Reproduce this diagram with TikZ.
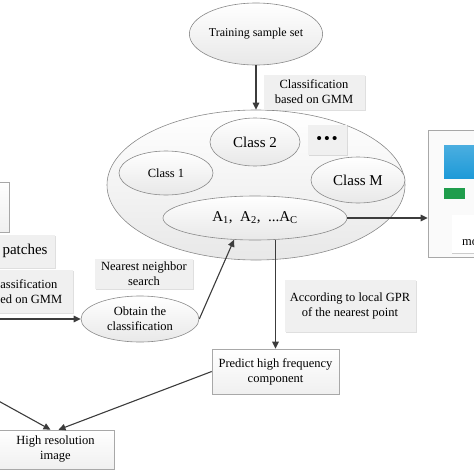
\documentclass[tikz,border=0pt]{standalone}
\usepackage{fontspec}
\setmainfont{Liberation Serif}
\usetikzlibrary{shapes.geometric,arrows.meta,shadows}
\definecolor{arrowc}{HTML}{3C3C3C}
\definecolor{ellc}{HTML}{8A8A8A}
\definecolor{boxc}{HTML}{A8A8A8}
\definecolor{lblfill}{HTML}{F0F0F0}
\definecolor{bluefill}{HTML}{1E9AD8}
\definecolor{greenfill}{HTML}{1F9D4C}
\begin{document}
\begin{tikzpicture}[x=1pt,y=-1pt,
  ell/.style={ellipse, draw=ellc, line width=0.6pt, top color=white, bottom color=gray!18,
              inner sep=0pt, align=center, font=\fontsize{12}{14}\selectfont},
  lbl/.style={rectangle, fill=lblfill, draw=none, inner sep=0pt, align=center,
              drop shadow={shadow xshift=1.3pt, shadow yshift=-1.3pt, opacity=0.25},
              font=\fontsize{12.5}{15}\selectfont},
  boxn/.style={rectangle, draw=boxc, line width=0.6pt, top color=white, bottom color=gray!12,
              inner sep=0pt, align=center,
              drop shadow={shadow xshift=1.3pt, shadow yshift=-1.3pt, opacity=0.25},
              font=\fontsize{12.5}{15}\selectfont},
  arr/.style={-{Triangle[length=7pt,width=6.5pt]}, draw=arrowc, line width=1.1pt}
]
\useasboundingbox (0,0) rectangle (474,474);
\clip (0,0) rectangle (474,474);

% training sample set
\node[ell, minimum width=128pt, minimum height=62pt] (train) at (256,34) {Training sample set};

% big ellipse and classes
\node[ell, minimum width=298pt, minimum height=150pt] (big) at (256,185) {};
\node[ell, minimum width=94pt, minimum height=44pt, font=\fontsize{12.5}{14}\selectfont] (c1) at (166,173) {Class 1};
\node[ell, minimum width=90pt, minimum height=48pt, font=\fontsize{15}{17}\selectfont] (c2) at (255,142) {Class 2};
\node[ell, minimum width=94pt, minimum height=46pt, font=\fontsize{15}{17}\selectfont] (cm) at (358,180) {Class M};
\node[ell, minimum width=184pt, minimum height=44pt, font=\fontsize{15}{17}\selectfont] (A) at (255,218)
  {A\textsubscript{1},\ \ A\textsubscript{2},\ \ ...A\textsubscript{C}};
\node[lbl, minimum width=39pt, minimum height=30pt, font=\fontsize{15}{17}\selectfont\bfseries] (dots) at (327,140)
  {\textbullet\,\textbullet\,\textbullet};

% labels
\node[lbl, minimum width=101pt, minimum height=35pt] (lcls) at (314,92) {Classification\\based on GMM};
\node[lbl, minimum width=98pt, minimum height=30pt] (lnn) at (144,274) {Nearest neighbor\\search};
\node[lbl, minimum width=131pt, minimum height=52pt] (lgpr) at (350,306) {According to local GPR\\of the nearest point};
\node[lbl, minimum width=60pt, minimum height=33pt, font=\fontsize{15}{17}\selectfont] (lpatch) at (25,251) {patches};
\node[lbl, minimum width=100pt, minimum height=43pt] (lcls2) at (23,291.5) {Classification\\based on GMM};

% left partial box
\node[boxn, minimum width=40pt, minimum height=50pt] (lbox) at (-11,207) {};

% obtain classification
\node[ell, minimum width=118pt, minimum height=46pt, font=\fontsize{12.5}{15}\selectfont] (obt) at (140,319) {Obtain the\\classification};

% predict and high resolution
\node[boxn, minimum width=127pt, minimum height=45pt] (pred) at (275.5,371.5) {Predict high frequency\\component};
\node[boxn, minimum width=117pt, minimum height=39pt] (hr) at (55.5,449.5) {High resolution\\image};

% right box
\node[rectangle, draw=boxc, line width=0.6pt, fill=gray!4, minimum width=80pt, minimum height=127pt,
      drop shadow={shadow xshift=1.3pt, shadow yshift=-1.3pt, opacity=0.2}] (rbox) at (468,193.5) {};
\fill[top color=bluefill!80!white, bottom color=bluefill] (444,145) rectangle (500,178);
\fill[greenfill] (444,188) rectangle (465,199);
\fill[white] (452,215) rectangle (500,253);
\draw[gray!40, line width=0.5pt] (452,253) -- (500,253);
\node[anchor=base west, inner sep=0pt, font=\fontsize{12.5}{15}\selectfont] (rtext) at (462,245) {model};

% off-picture ends
\coordinate (inl) at (-5,319);
\coordinate (inhr) at (-25,388);

% connectors
\draw[arr] (train.south) -- (big.north);
\draw[arr] (A.east) -- (rbox.west |- A.east);
\draw[arr] (inl) -- (obt.west);
\draw[arr] (obt.east) -- (A.226);
\draw[arr] (A.south -| pred.north) -- (pred.north);
\draw[arr] (pred.west) -- ([xshift=3pt]hr.north);
\draw[arr] (inhr) -- ([xshift=-5pt]hr.north);
\end{tikzpicture}
\end{document}
